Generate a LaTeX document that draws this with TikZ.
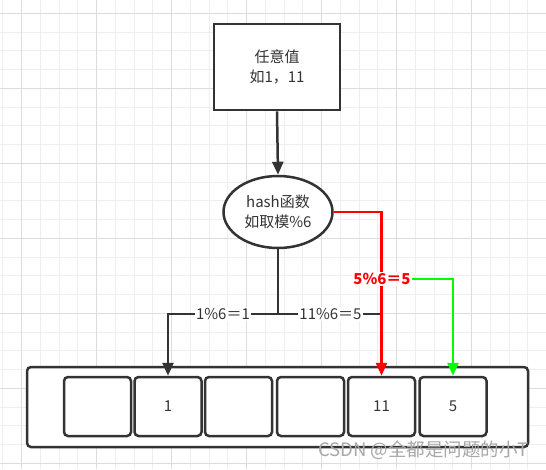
\documentclass[tikz,border=0pt]{standalone}
\usepackage{fontspec}
\setmainfont{Noto Sans CJK SC}
\usetikzlibrary{arrows.meta,shapes.geometric}
\definecolor{ink}{HTML}{333333}
\definecolor{gridminor}{HTML}{EEEEEE}
\definecolor{gridmajor}{HTML}{DDDDDD}
\definecolor{pgreen}{HTML}{00FF00}
\definecolor{pred}{HTML}{FF0000}
\definecolor{wmark}{HTML}{A8A8A8}
\tikzset{
  basefont/.style={font=\fontsize{15}{20}\selectfont},
  box/.style={draw=ink, line width=2.8pt, fill=white, basefont, text=ink, align=center, inner sep=0pt},
  cell/.style={draw=ink, line width=2.5pt, fill=white, rounded corners=4pt, minimum width=67pt, minimum height=59pt, basefont, text=ink, inner sep=0pt},
  conn/.style={draw=ink, line width=2.5pt},
  arr/.style={-{Triangle[length=13pt,width=11pt]}},
  lbl/.style={fill=white, text=ink, basefont, inner sep=1.5pt},
}
\begin{document}
\begin{tikzpicture}[x=1pt,y=-1pt]
\useasboundingbox (0,0) rectangle (546,469);
\fill[white] (0,0) rectangle (546,469);
% background grid
\foreach \i in {0,...,29} \draw[gridminor, line width=1pt] ({2.95+18.75*\i},0) -- ({2.95+18.75*\i},469);
\foreach \i in {0,...,24} \draw[gridminor, line width=1pt] (0,{13.3+18.75*\i}) -- (546,{13.3+18.75*\i});
\foreach \i in {0,...,7} \draw[gridmajor, line width=1pt] ({21.7+75*\i},0) -- ({21.7+75*\i},469);
\foreach \i in {0,...,6} \draw[gridmajor, line width=1pt] (0,{13.3+75*\i}) -- (546,{13.3+75*\i});

% nodes
\node[box, minimum width=126pt, minimum height=86pt] (src) at (277,67) {任意值\\如1，11};
\node[box, ellipse, line width=2.5pt, minimum width=109pt, minimum height=72pt] (hash) at (278,212) {hash函数\\如取模\%6};

\node[draw=ink, line width=2.5pt, fill=white, rounded corners=4pt, minimum width=501pt, minimum height=80pt] (arr) at (277.5,407) {};
\node[cell] (c1) at (97.5,406.5) {};
\node[cell] (c2) at (168,406.5) {1};
\node[cell] (c3) at (238.5,406.5) {};
\node[cell] (c4) at (310.5,406.5) {};
\node[cell] (c5) at (381.5,406.5) {11};
\node[cell] (c6) at (453,406.5) {5};

\coordinate (j) at (278,314);
\coordinate (rj) at (381.5,314);

% connectors
\draw[conn, arr] (src.south) -- (hash.north);
\draw[conn] (hash.south) -- (j);
\draw[conn, arr] (j) -| (c2.north);
\draw[conn] (j) -- (rj);
\draw[draw=pred, line width=2.5pt, -{Triangle[length=13pt,width=11pt]}] (hash.east) -| (c5.north);

\node[lbl] (l1) at (223,314) {1\%6＝1};
\node[lbl] (l2) at (330.5,314) {11\%6＝5};
\node[fill=white, text=pred, font=\fontsize{15}{20}\selectfont\bfseries, inner sep=1.5pt] (rl) at (382,279) {5\%6＝5};
\draw[draw=pgreen, line width=2.5pt, -{Triangle[length=13pt,width=11pt]}] (rl.east) -| (c6.north);

\node[anchor=east, text=wmark, font=\fontsize{18.5}{22}\selectfont, inner sep=0pt] (wm) at (529,450) {CSDN @全都是问题的小T};
\end{tikzpicture}
\end{document}
